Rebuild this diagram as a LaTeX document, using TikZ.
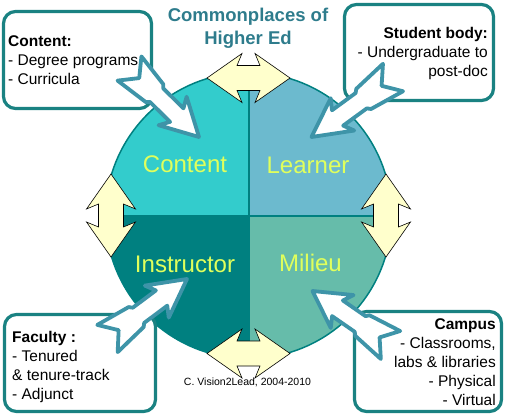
\documentclass[tikz,border=0pt]{standalone}
\usepackage{fontspec}
\setmainfont{Liberation Sans}
\usetikzlibrary{calc,positioning}

\definecolor{contentc}{RGB}{51,204,204}
\definecolor{learnerc}{RGB}{108,186,206}
\definecolor{instrc}{RGB}{0,128,128}
\definecolor{milieuc}{RGB}{102,188,170}
\definecolor{rimc}{RGB}{0,128,128}
\definecolor{boxc}{RGB}{26,130,130}
\definecolor{arrowc}{RGB}{62,148,168}
\definecolor{titlec}{RGB}{46,124,140}
\definecolor{labelc}{RGB}{224,255,92}
\definecolor{swapc}{RGB}{255,255,204}

% two-headed arrow on the rim: centre, rotation
\newcommand{\exchangearrow}[2]{%
  \begin{scope}[shift={(#1)},rotate=#2]
    \draw[exchange] (41.5,0) -- (6.5,24.5) -- (11.5,12.5) -- (-11.5,12.5) -- (-6.5,24.5)
      -- (-41.5,0) -- (-6.5,-24.5) -- (-11.5,-12.5) -- (11.5,-12.5) -- (6.5,-24.5) -- cycle;
  \end{scope}}

% block arrow from a box into its quadrant: tail, tip
\newcommand{\inflowarrow}[2]{%
  \draw[inflow] ($(#1)!17pt!90:(#2)$)
    -- ($(#1)!.36!(#2)!12.5pt!90:(#2)$) -- ($(#1)!.39!(#2)!9.5pt!90:(#2)$)
    -- ($(#1)!.68!(#2)!9.5pt!90:(#2)$) -- ($(#1)!.62!(#2)!20pt!90:(#2)$)
    -- (#2)
    -- ($(#1)!.62!(#2)!20pt!-90:(#2)$) -- ($(#1)!.68!(#2)!9.5pt!-90:(#2)$)
    -- ($(#1)!.39!(#2)!9.5pt!-90:(#2)$) -- ($(#1)!.36!(#2)!12.5pt!-90:(#2)$)
    -- ($(#1)!17pt!-90:(#2)$) -- ($(#1)!.14!(#2)$) -- cycle;}

\begin{document}
\begin{tikzpicture}[x=1pt,y=-1pt]
  \tikzstyle{quadrant}=[text=labelc,font=\fontsize{24}{28}\selectfont,inner sep=0pt]
  \tikzstyle{infobox}=[rectangle,rounded corners=12pt,draw=boxc,line width=3.2pt,fill=white,inner sep=0pt]
  \tikzstyle{infotext}=[inner sep=0pt,font=\fontsize{15.5}{19}\selectfont]
  \tikzstyle{inflow}=[draw=arrowc,line width=3.8pt,fill=white,line join=round]
  \tikzstyle{exchange}=[draw=black,line width=0.6pt,fill=swapc,line join=miter]

  \useasboundingbox (0,0) rectangle (506,417);

  % The circle.
  \coordinate (hub) at (248.5,215.5);
  \begin{scope}
    \clip (hub) circle [radius=143];
    \fill[contentc] (hub) rectangle ++(-150,-150);
    \fill[learnerc] (hub) rectangle ++(150,-150);
    \fill[instrc] (hub) rectangle ++(-150,150);
    \fill[milieuc] (hub) rectangle ++(150,150);
  \end{scope}
  \draw[rimc,line width=2pt] ($(hub)+(0,-143)$) -- ($(hub)+(0,143)$);
  \draw[rimc,line width=2pt] ($(hub)+(-143,0)$) -- ($(hub)+(143,0)$);
  \draw[rimc,line width=1.5pt] (hub) circle [radius=143];

  % Exchanges between neighbours.
  \coordinate (topswap) at (248.5,78);
  \coordinate (bottomswap) at (248.5,353.5);
  \coordinate (leftswap) at (111,215.5);
  \coordinate (rightswap) at (386,215.5);
  \exchangearrow{topswap}{0}
  \exchangearrow{bottomswap}{0}
  \exchangearrow{leftswap}{90}
  \exchangearrow{rightswap}{90}

  % Quadrant names.
  \node[quadrant] (content) at (185,164) {Content};
  \node[quadrant] (learner) at (308,165) {Learner};
  \node[quadrant] (instructor) at (185,264) {Instructor};
  \node[quadrant] (milieu) at (310.5,263) {Milieu};

  % Corner boxes.
  \node[infobox,minimum width=148pt,minimum height=97pt] (contentbox) at (77.5,60) {};
  \node[infobox,minimum width=149pt,minimum height=96pt] (learnerbox) at (419,52.5) {};
  \node[infobox,minimum width=151pt,minimum height=97pt] (instrbox) at (80,363) {};
  \node[infobox,minimum width=147pt,minimum height=100pt] (milieubox) at (428,361.5) {};

  \node[infotext,anchor=north west,align=left] (contenttext) at (8,35)
    {\textbf{Content:}\\- Degree programs\\- Curricula};
  \node[infotext,anchor=north east,align=right] (learnertext) at (488,27)
    {\textbf{Student body:}\\- Undergraduate to\\post-doc};
  \node[infotext,anchor=north west,align=left] (instrtext) at (12,331)
    {\textbf{Faculty :}\\- Tenured\\\& tenure-track\\- Adjunct};
  \node[infotext,anchor=north east,align=right] (milieutext) at (496,318)
    {\textbf{Campus}\\- Classrooms,\\labs \& libraries\\- Physical\\- Virtual};

  % Arrows from the boxes into the circle.
  \coordinate (contenttail) at (129.5,68.5);
  \coordinate (contenttip) at (199,137);
  \coordinate (learnertail) at (393,77.5);
  \coordinate (learnertip) at (311.5,137);
  \coordinate (instrtail) at (107.5,338.5);
  \coordinate (instrtip) at (187,279);
  \coordinate (milieutail) at (390.5,345);
  \coordinate (milieutip) at (312.5,291);
  \inflowarrow{contenttail}{contenttip}
  \inflowarrow{learnertail}{learnertip}
  \inflowarrow{instrtail}{instrtip}
  \inflowarrow{milieutail}{milieutip}

  % Title and credit.
  \node[anchor=north,align=center,inner sep=0pt,text=titlec,
        font=\bfseries\fontsize{18.5}{22.5}\selectfont] (title) at (248,8)
    {Commonplaces of\\Higher Ed};
  \node[anchor=base,inner sep=0pt,font=\fontsize{10.5}{12}\selectfont] (credit) at (247.5,385.5)
    {C. Vision2Lead, 2004-2010};
\end{tikzpicture}
\end{document}
